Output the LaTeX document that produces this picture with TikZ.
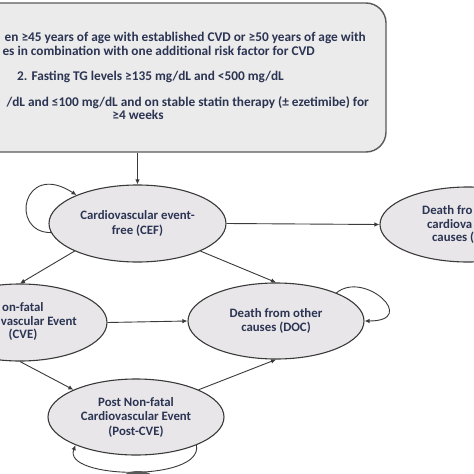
\documentclass[tikz,border=0pt]{standalone}
\usepackage{fontspec}
\setmainfont{Carlito}
\usetikzlibrary{shapes.geometric,arrows.meta}
\definecolor{txt}{HTML}{2B3452}
\definecolor{edgec}{HTML}{3A3A3A}
\definecolor{ellfill}{HTML}{E8E6E9}
\definecolor{boxfill}{HTML}{ECEBEB}
\definecolor{boxline}{HTML}{5A5A5A}
\tikzset{
  state/.style={ellipse, draw=edgec, fill=ellfill, line width=1.1pt, inner sep=0pt},
  lbl/.style={text=txt, font=\fontsize{12.8}{14.5}\selectfont\bfseries, align=center, inner sep=0pt},
  boxtxt/.style={text=txt, font=\fontsize{13.3}{14}\selectfont\bfseries, inner sep=0pt},
  arr/.style={draw=edgec, line width=0.9pt, -{Latex[length=5pt,width=4.5pt]}}
}
\begin{document}
\begin{tikzpicture}[x=1pt,y=-1pt]
\useasboundingbox (0,0) rectangle (474,474);
\fill[white] (0,0) rectangle (474,474);
\clip (0,0) rectangle (474,474);
% top box
\node[draw=boxline, fill=boxfill, line width=1.4pt, rounded corners=20pt, minimum width=500pt, minimum height=149pt, inner sep=0pt] (box) at (136,77.5) {};
\node[boxtxt, anchor=mid east] (l1) at (366,39) {en ≥45 years of age with established CVD or ≥50 years of age with};
\node[boxtxt, anchor=mid east] (l2) at (315,53) {es in combination with one additional risk factor for CVD};
\node[boxtxt, anchor=mid] (l3) at (150.5,78.5) {2. Fasting TG levels ≥135 mg/dL and <500 mg/dL};
\node[boxtxt, anchor=mid east] (l4) at (369,104) {/dL and ≤100 mg/dL and on stable statin therapy (± ezetimibe) for};
\node[boxtxt, anchor=mid] (l5) at (138,117) {≥4 weeks};
% states
\node[state, minimum width=177pt, minimum height=77pt] (cef) at (137.5,223.5) {};
\node[lbl] (cefl) at (cef.center) {Cardiovascular event-\\free (CEF)};
\node[state, minimum width=176pt, minimum height=75pt] (rc) at (468,224.5) {};
\node[lbl, anchor=mid west] (rc1) at (422,212) {Death fro};
\node[lbl, anchor=mid west] (rc2) at (427,226) {cardiova};
\node[lbl, anchor=mid west] (rc3) at (432,239) {causes (};
\node[state, minimum width=176pt, minimum height=76pt] (doc) at (276,321) {};
\node[lbl] (docl) at (doc.center) {Death from other\\causes (DOC)};
\node[state, minimum width=174pt, minimum height=77pt] (cve) at (20,322.5) {};
\node[lbl, anchor=mid west] (cve1) at (2,309) {on-fatal};
\node[lbl, anchor=mid east] (cve2) at (77,323) {vascular Event};
\node[lbl, anchor=mid] (cve3) at (23,336) {(CVE)};
\node[state, minimum width=176pt, minimum height=76pt] (post) at (136,417) {};
\node[lbl] (postl) at (post.center) {Post Non-fatal\\Cardiovascular Event\\(Post-CVE)};
% connectors
\draw[arr] (cef.north |- box.south) -- (cef.north);
\draw[arr] (cef.east) -- (rc.west);
\draw[arr] (cef.south west) -- (cve.north);
\draw[arr] (cef.south east) -- (doc.north);
\draw[arr] (cve.east) -- (doc.west);
\draw[arr] (cve.south) -- (post.north west);
\draw[arr] (post.north east) -- (doc.south);
% self loops
\draw[arr] (cef.186) .. controls +(-42,0) and +(-54,-35) .. (cef.155);
\draw[arr] (doc.25) .. controls +(28,-23) and +(55,0) .. (doc.east);
\draw[arr] (post.-25) .. controls +(7,37) and +(-14,34) .. (post.205);
% dark blob at bottom
\fill[black!65] (138,479) ellipse (16pt and 8pt);
\end{tikzpicture}
\end{document}
